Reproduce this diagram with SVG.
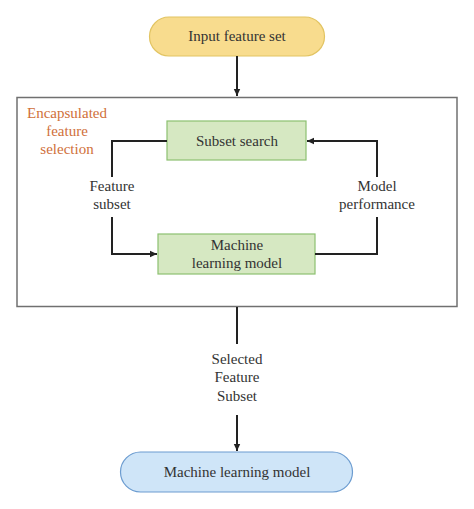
<svg xmlns="http://www.w3.org/2000/svg" width="474" height="509" viewBox="0 0 474 509">
<defs>
<marker id="ah" markerWidth="8" markerHeight="8" refX="7" refY="4" orient="auto" markerUnits="userSpaceOnUse">
<path d="M0,0.8 L7,4 L0,7.2 Z" fill="#222"/>
</marker>
<style>
.t{font-family:"Liberation Serif","Times New Roman",serif;font-size:15px;fill:#333;text-anchor:middle}
.o{fill:#d0703a}
.c{fill:none;stroke:#222;stroke-width:2}
.g{fill:#d6e8c2;stroke:#8cc070;stroke-width:1.2}
</style>
</defs>
<rect width="474" height="509" fill="#fff"/>
<g id="container">
<rect x="17" y="97.5" width="440" height="209" fill="none" stroke="#707070" stroke-width="1.5"/>
<text class="t o" x="67" y="118">Encapsulated</text>
<text class="t o" x="67" y="136">feature</text>
<text class="t o" x="67" y="154">selection</text>
</g>
<g id="input">
<rect x="149.5" y="17" width="175" height="39" rx="19.5" fill="#f8dc8e" stroke="#e2c462" stroke-width="1.2"/>
<text class="t" x="237" y="41">Input feature set</text>
</g>
<g id="subset-search">
<rect class="g" x="167" y="121" width="139" height="39"/>
<text class="t" x="237" y="145.5">Subset search</text>
</g>
<g id="ml-inner">
<rect class="g" x="158" y="234" width="157" height="40"/>
<text class="t" x="237" y="250">Machine</text>
<text class="t" x="237" y="268">learning model</text>
</g>
<g id="ml-output">
<rect x="120.5" y="452" width="232" height="40" rx="20" fill="#cfe5f8" stroke="#6c9cd0" stroke-width="1.2"/>
<text class="t" x="237" y="477">Machine learning model</text>
</g>
<g id="connectors">
<path class="c" d="M237,56 V96" marker-end="url(#ah)"/>
<path class="c" d="M167,141 H112 V177"/>
<path class="c" d="M112,217 V254 H157" marker-end="url(#ah)"/>
<path class="c" d="M315,254 H377 V217"/>
<path class="c" d="M377,177 V141 H307" marker-end="url(#ah)"/>
<path class="c" d="M237,307 V344"/>
<path class="c" d="M237,415 V451" marker-end="url(#ah)"/>
<text class="t" x="112" y="191">Feature</text>
<text class="t" x="112" y="209">subset</text>
<text class="t" x="377" y="191">Model</text>
<text class="t" x="377" y="209">performance</text>
<text class="t" x="237" y="364">Selected</text>
<text class="t" x="237" y="382">Feature</text>
<text class="t" x="237" y="401">Subset</text>
</g>
</svg>
